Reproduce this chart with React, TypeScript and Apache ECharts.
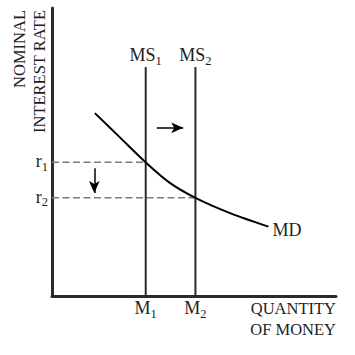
import React, { useEffect, useRef } from "react";
import * as echarts from "echarts";

const FONT = "Liberation Serif";
const INK = "#1e1e1e";

// money supply positions (x) and top of the MS lines
const msX = [3.3, 5.05];
const msTop = 7.95;
const msNames = ["MS", "MS"];
const msSubs = ["1", "2"];
// interest rates
const rY = [4.64, 3.41];
const rNames = ["r", "r"];
const mNames = ["M", "M"];
const subs = ["1", "2"];
// money demand curve
const mdX = [1.51, 2.4, 3.3, 4.15, 5.05, 6.27, 7.62];
const mdY = [6.35, 5.5, 4.64, 3.93, 3.41, 2.88, 2.41];
// shift arrows
const arrowRight = [[3.69, 5.84], [4.62, 5.84]];
const arrowDown = [[1.49, 4.44], [1.49, 3.58]];

const rich = {
  b: { fontSize: 18, fontFamily: FONT, color: INK, lineHeight: 20, verticalAlign: "top" },
  s: { fontSize: 12.5, fontFamily: FONT, color: INK, lineHeight: 12, padding: [8, 0, 0, 0], verticalAlign: "top" },
};
const yRich = {
  b: { fontSize: 18, fontFamily: FONT, color: INK, lineHeight: 20, padding: [0, 0, 4, 0], verticalAlign: "top" },
  s: { fontSize: 12.5, fontFamily: FONT, color: INK, lineHeight: 12, padding: [8, 0, 4, 0], verticalAlign: "top" },
};

const hiddenSym = { symbol: "circle", symbolSize: 2, itemStyle: { color: "rgba(0,0,0,0)" } };

export default function App() {
  const ref = useRef<HTMLDivElement>(null);
  useEffect(() => {
    const chart = echarts.init(ref.current!, null, { renderer: "svg" });
    const series: any[] = [];
    msX.forEach((x, i) => {
      series.push({
        type: "line",
        data: [[x, 0], [x, msTop]],
        ...hiddenSym,
        lineStyle: { color: "#2a2a2a", width: 2 },
        label: {
          show: true,
          position: "top",
          distance: 0,
          fontSize: 18,
          fontFamily: FONT,
          color: INK,
          formatter: (p: any) => (p.dataIndex === 1 ? `{b|${msNames[i]}}{s|${msSubs[i]}}` : ""),
          rich,
        },
        z: 3,
      });
      series.push({
        type: "line",
        data: [[0, rY[i]], [x, rY[i]]],
        symbol: "none",
        lineStyle: { color: "#7a7a7a", width: 1.5, type: [7, 3.5] },
        z: 2,
      });
    });
    series.push({
      type: "line",
      data: mdX.map((x, i) => [x, mdY[i]]),
      smooth: 0.3,
      ...hiddenSym,
      lineStyle: { color: "#000", width: 2 },
      label: {
        show: true,
        position: "right",
        distance: 3,
        offset: [0, 3],
        formatter: (p: any) => (p.dataIndex === mdX.length - 1 ? "MD" : ""),
        fontSize: 18,
        fontFamily: FONT,
        color: INK,
      },
      markLine: {
        silent: true,
        symbol: ["none", "arrow"],
        symbolSize: [8, 12],
        label: { show: false },
        lineStyle: { color: "#000", width: 1.5, type: "solid" },
        data: [
          [{ coord: arrowRight[0] }, { coord: arrowRight[1] }],
          [{ coord: arrowDown[0] }, { coord: arrowDown[1] }],
        ],
      },
      z: 4,
    });

    chart.setOption({
      animation: false,
      grid: { left: 52, top: 8, right: 19, bottom: 59 },
      xAxis: {
        type: "value",
        min: 0,
        max: 10,
        axisLine: { show: true, lineStyle: { color: "#2a2a2a", width: 3 } },
        axisTick: { show: false },
        splitLine: { show: false },
        axisLabel: {
          customValues: msX,
          margin: 3,
          fontSize: 18,
          fontFamily: FONT,
          color: INK,
          formatter: (v: number) => {
            const i = msX.findIndex((m) => Math.abs(m - v) < 1e-6);
            return i < 0 ? "" : `{b|${mNames[i]}}{s|${subs[i]}}`;
          },
          rich,
        },
      },
      yAxis: {
        type: "value",
        min: 0,
        max: 10,
        axisLine: { show: true, lineStyle: { color: "#2a2a2a", width: 3 } },
        axisTick: { show: false },
        splitLine: { show: false },
        axisLabel: {
          customValues: rY,
          margin: 4,
          fontSize: 18,
          fontFamily: FONT,
          color: INK,
          formatter: (v: number) => {
            const i = rY.findIndex((m) => Math.abs(m - v) < 1e-6);
            return i < 0 ? "" : `{b|${rNames[i]}}{s|${subs[i]}}`;
          },
          rich: yRich,
        },
      },
      graphic: [
        {
          type: "text",
          x: 29,
          y: 10,
          rotation: Math.PI / 2,
          style: {
            text: "NOMINAL\nINTEREST RATE",
            fontSize: 16.5,
            fontFamily: FONT,
            fill: INK,
            align: "right",
            verticalAlign: "middle",
            lineHeight: 20,
          },
        },
        {
          type: "text",
          x: 336,
          y: 298,
          style: {
            text: "QUANTITY\nOF MONEY",
            fontSize: 16.5,
            fontFamily: FONT,
            fill: INK,
            align: "right",
            verticalAlign: "top",
            lineHeight: 21,
          },
        },
      ],
      series,
    });
    return () => chart.dispose();
  }, []);
  return (
    <div
      ref={ref}
      style={{ position: "absolute", left: 0, top: 0, width: 355, height: 355, background: "#fff" }}
    />
  );
}
